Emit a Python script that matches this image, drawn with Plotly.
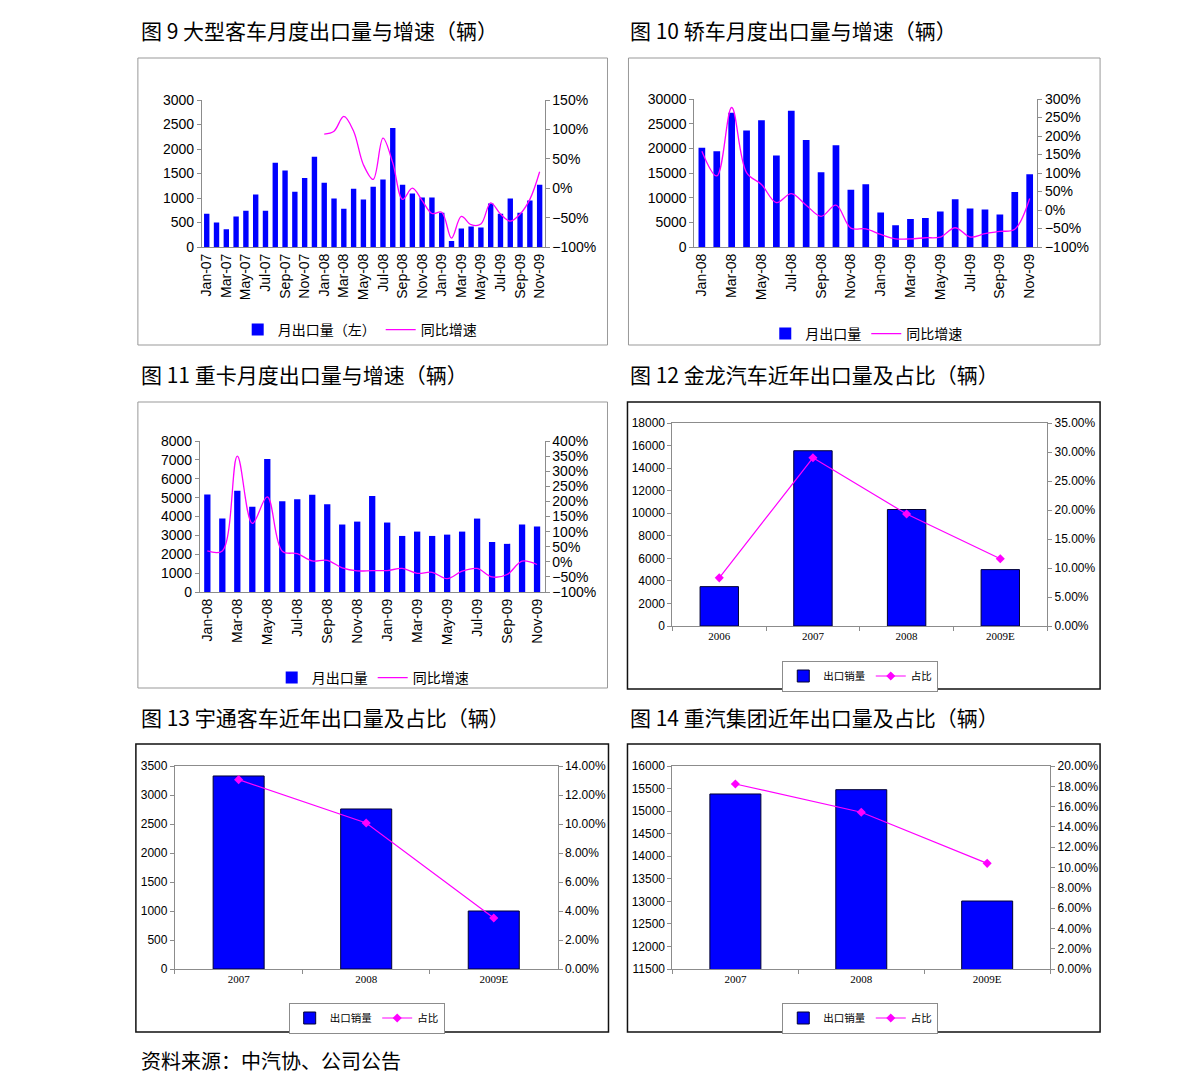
import plotly.graph_objects as go

# figure size, and the region that paper coordinates cover on the page
W, H = 1191, 1091
OX, OY, EW, EH = 3, 8, 1185, 1075

# ---------------- data ----------------
months_a = ["Jan-07", "Feb-07", "Mar-07", "Apr-07", "May-07", "Jun-07", "Jul-07", "Aug-07", "Sep-07",
            "Oct-07", "Nov-07", "Dec-07", "Jan-08", "Feb-08", "Mar-08", "Apr-08", "May-08", "Jun-08",
            "Jul-08", "Aug-08", "Sep-08", "Oct-08", "Nov-08", "Dec-08", "Jan-09", "Feb-09", "Mar-09",
            "Apr-09", "May-09", "Jun-09", "Jul-09", "Aug-09", "Sep-09", "Oct-09", "Nov-09"]
months_b = ["Jan-08", "Feb-08", "Mar-08", "Apr-08", "May-08", "Jun-08", "Jul-08", "Aug-08", "Sep-08",
            "Oct-08", "Nov-08", "Dec-08", "Jan-09", "Feb-09", "Mar-09", "Apr-09", "May-09", "Jun-09",
            "Jul-09", "Aug-09", "Sep-09", "Oct-09", "Nov-09"]

# Fig 9 large buses
bus_export = [680, 500, 360, 620, 740, 1070, 740, 1720, 1560, 1130, 1410, 1840, 1310, 990, 780, 1190,
              970, 1230, 1380, 2430, 1270, 1090, 1010, 1010, 700, 120, 380, 420, 400, 890, 680, 990,
              700, 950, 1270]
bus_growth = [None] * 12 + [92, 97, 122, 97, 40, 15, 85, 43, -19, 0, -21, -43, -41, -85, -48, -62,
                            -61, -25, -44, -56, -44, -19, 28]

# Fig 10 cars
car_export = [20100, 19400, 27200, 23600, 25700, 18550, 27600, 21670, 15170, 20650, 11580, 12730,
              6975, 4400, 5690, 5890, 7180, 9680, 7790, 7580, 6570, 11170, 14760]
car_growth = [159, 92, 277, 101, 69, 20, 44, 13, -17, 13, -49, -51, -66, -78, -78, -75, -73, -48,
              -73, -64, -58, -52, 31]

# Fig 11 heavy trucks
truck_export = [5170, 3890, 5360, 4510, 7040, 4810, 4920, 5150, 4650, 3575, 3730, 5080, 3680, 2970,
                3200, 2970, 3040, 3200, 3890, 2650, 2550, 3575, 3470]
truck_growth = [36, 36, 350, 127, 215, 35, 27, 3, 5, -20, -30, -29, -29, -22, -38, -35, -56, -31,
                -22, -50, -42, 2, -9]

# Fig 12 King Long
kl_years = ["2006", "2007", "2008", "2009E"]
kl_export = [3490, 15540, 10330, 5000]
kl_share = [0.083, 0.290, 0.193, 0.116]

# Fig 13 Yutong
yt_years = ["2007", "2008", "2009E"]
yt_export = [3328, 2759, 1000]
yt_share = [0.1306, 0.1007, 0.0352]

# Fig 14 Sinotruk
zq_years = ["2007", "2008", "2009E"]
zq_export = [15380, 15475, 13007]
zq_share = [0.1823, 0.1544, 0.1041]

titles = ["图 9 大型客车月度出口量与增速（辆）", "图 10 轿车月度出口量与增速（辆）",
          "图 11 重卡月度出口量与增速（辆）", "图 12 金龙汽车近年出口量及占比（辆）",
          "图 13 宇通客车近年出口量及占比（辆）", "图 14 重汽集团近年出口量及占比（辆）"]
source_text = "资料来源：中汽协、公司公告"

BLUE = "#0000FF"
MAG = "#FF00FF"
GRAY = "#8c8c8c"
CJK = "Noto Sans CJK SC"
SANS = "Liberation Sans, Arial"
NARROW = "Liberation Sans Narrow, Arial Narrow, Liberation Sans"
SERIF = "Liberation Serif, Times New Roman"


def px(a):
    return (a - OX) / EW


def py(b):
    return 1 - (b - OY) / EH


def dx(a, b):
    return [px(a), px(b)]


def dy(top, bottom):
    return [py(bottom), py(top)]


fig = go.Figure()
layout = dict(width=W, height=H, margin=dict(l=0, r=0, t=0, b=0),
              paper_bgcolor="white", plot_bgcolor="white", showlegend=True,
              barmode="overlay")

# ---------- monthly panels (1-3) ----------
monthly = [
    dict(cats=months_a, bars=bus_export, line=bus_growth, xd=(201, 544), yd=(100, 247),
         yl=(0, 3000, 500), yr=(-100, 150, 50), bw=0.55, bar_name="月出口量（左）",
         leg=(359, 330)),
    dict(cats=months_b, bars=car_export, line=car_growth, xd=(694, 1037), yd=(99, 247),
         yl=(0, 30000, 5000), yr=(-100, 300, 50), bw=0.45, bar_name="月出口量",
         leg=(866, 334)),
    dict(cats=months_b, bars=truck_export, line=truck_growth, xd=(199, 544), yd=(441, 592),
         yl=(0, 8000, 1000), yr=(-100, 400, 50), bw=0.42, bar_name="月出口量",
         leg=(372, 678)),
]

for k, p in enumerate(monthly):
    xi = k + 1
    yli = 2 * k + 1
    yri = 2 * k + 2
    xname = "x" if xi == 1 else f"x{xi}"
    ylname = "y" if yli == 1 else f"y{yli}"
    yrname = f"y{yri}"
    legname = "legend" if k == 0 else f"legend{k + 1}"
    fig.add_trace(go.Bar(x=p["cats"], y=p["bars"], name=p["bar_name"], marker_color=BLUE,
                         marker_line_width=0, width=p["bw"], xaxis=xname, yaxis=ylname,
                         legend=legname))
    fig.add_trace(go.Scatter(x=p["cats"], y=p["line"], name="同比增速", mode="lines",
                             line=dict(color=MAG, width=1.3, shape="spline", smoothing=1.0),
                             xaxis=xname, yaxis=yrname, legend=legname))
    xkey = "xaxis" if xi == 1 else f"xaxis{xi}"
    ylkey = "yaxis" if yli == 1 else f"yaxis{yli}"
    yrkey = f"yaxis{yri}"
    layout[xkey] = dict(domain=dx(*p["xd"]), anchor=ylname, type="category",
                        range=[-0.5, len(p["cats"]) - 0.5], tickmode="array",
                        tickvals=p["cats"][::2], ticktext=p["cats"][::2], tickangle=-90,
                        showline=True, linecolor=GRAY, linewidth=1, ticks="",
                        showgrid=False, tickfont=dict(family=SANS, size=14, color="black"))
    layout[ylkey] = dict(domain=dy(*p["yd"]), anchor=xname, range=[p["yl"][0], p["yl"][1]],
                         dtick=p["yl"][2], tick0=0, tickformat="d", showline=True,
                         linecolor=GRAY, linewidth=1, ticks="outside", ticklen=4,
                         tickcolor=GRAY, showgrid=False, zeroline=False,
                         tickfont=dict(family=SANS, size=14, color="black"))
    layout[yrkey] = dict(overlaying=ylname, side="right", anchor=xname,
                         range=[p["yr"][0], p["yr"][1]], dtick=p["yr"][2], tick0=0,
                         ticksuffix="%", showline=True, linecolor=GRAY, linewidth=1,
                         ticks="outside", ticklen=4, tickcolor=GRAY, showgrid=False,
                         zeroline=False, tickfont=dict(family=SANS, size=14, color="black"))
    layout[legname] = dict(x=px(p["leg"][0]), y=py(p["leg"][1]), xanchor="center",
                           yanchor="middle", orientation="h", bgcolor="rgba(0,0,0,0)",
                           font=dict(family=CJK, size=14, color="black"), itemwidth=30,
                           tracegroupgap=0)

# ---------- annual panels (4-6) ----------
annual = [
    dict(cats=kl_years, bars=kl_export, line=kl_share, xd=(672, 1047), yd=(423, 626),
         yl=(0, 18000, 2000), yr=(0, 0.35, 0.05), bw=0.41, leg=(860, 676)),
    dict(cats=yt_years, bars=yt_export, line=yt_share, xd=(174, 557), yd=(766, 969),
         yl=(0, 3500, 500), yr=(0, 0.14, 0.02), bw=0.40, leg=(366, 1018)),
    dict(cats=zq_years, bars=zq_export, line=zq_share, xd=(672, 1050), yd=(766, 969),
         yl=(11500, 16000, 500), yr=(0, 0.20, 0.02), bw=0.405, leg=(860, 1018)),
]

for j, p in enumerate(annual):
    k = j + 3
    xi = k + 1
    yli = 2 * k + 1
    yri = 2 * k + 2
    xname = f"x{xi}"
    ylname = f"y{yli}"
    yrname = f"y{yri}"
    legname = f"legend{k + 1}"
    fig.add_trace(go.Bar(x=p["cats"], y=p["bars"], name="出口销量", marker_color=BLUE,
                         marker_line=dict(color="#000033", width=1), width=p["bw"],
                         xaxis=xname, yaxis=ylname, legend=legname))
    fig.add_trace(go.Scatter(x=p["cats"], y=p["line"], name="占比", mode="lines+markers",
                             line=dict(color=MAG, width=1.2),
                             marker=dict(symbol="diamond", size=7, color=MAG),
                             xaxis=xname, yaxis=yrname, legend=legname))
    layout[f"xaxis{xi}"] = dict(domain=dx(*p["xd"]), anchor=ylname, type="category",
                                range=[-0.5, len(p["cats"]) - 0.5], showline=True,
                                mirror=True, linecolor=GRAY, linewidth=1, ticks="outside",
                                tickson="boundaries", ticklen=4, tickcolor=GRAY,
                                showgrid=False,
                                tickfont=dict(family=SERIF, size=11, color="black"))
    layout[f"yaxis{yli}"] = dict(domain=dy(*p["yd"]), anchor=xname,
                                 range=[p["yl"][0], p["yl"][1]], dtick=p["yl"][2],
                                 tick0=p["yl"][0], tickformat="d", showline=True,
                                 linecolor=GRAY, linewidth=1, ticks="outside", ticklen=4,
                                 tickcolor=GRAY, showgrid=False, zeroline=False,
                                 tickfont=dict(family=NARROW, size=12, color="black"))
    layout[f"yaxis{yri}"] = dict(overlaying=ylname, side="right", anchor=xname,
                                 range=[p["yr"][0], p["yr"][1]], dtick=p["yr"][2], tick0=0,
                                 tickformat=".2%", showline=True, linecolor=GRAY,
                                 linewidth=1, ticks="outside", ticklen=4, tickcolor=GRAY,
                                 showgrid=False, zeroline=False,
                                 tickfont=dict(family=NARROW, size=12, color="black"))
    layout[legname] = dict(x=px(p["leg"][0]), y=py(p["leg"][1]), xanchor="center",
                           yanchor="middle", orientation="h", bgcolor="white",
                           bordercolor=GRAY, borderwidth=1,
                           font=dict(family=CJK, size=10.5, color="black"), itemwidth=30,
                           tracegroupgap=0)

# ---------- frames ----------
frames = [
    ((137, 58, 607, 345), "#999999", 1),
    ((628, 58, 1100, 345), "#999999", 1),
    ((137, 402, 607, 688), "#999999", 1),
    ((627, 402, 1100, 689), "#111111", 1.5),
    ((135, 744, 608, 1032), "#111111", 1.5),
    ((627, 744, 1100, 1032), "#111111", 1.5),
]
shapes = []
for (x0, y0, x1, y1), col, lw in frames:
    shapes.append(dict(type="rect", xref="paper", yref="paper", x0=px(x0), x1=px(x1),
                       y0=py(y1), y1=py(y0), line=dict(color=col, width=lw),
                       fillcolor="rgba(0,0,0,0)", layer="below"))
layout["shapes"] = shapes

# ---------- titles ----------
title_pos = [(138, 30), (628, 30), (138, 374), (628, 374), (138, 717), (628, 717)]
annotations = []
for t, (x, y) in zip(titles, title_pos):
    annotations.append(dict(text=t, x=px(x), y=py(y), xref="paper", yref="paper",
                            xanchor="left", yanchor="middle", showarrow=False,
                            font=dict(family=CJK, size=21, color="black")))
annotations.append(dict(text=source_text, x=px(138), y=py(1060), xref="paper",
                        yref="paper", xanchor="left", yanchor="middle", showarrow=False,
                        font=dict(family=CJK, size=20, color="black")))
layout["annotations"] = annotations

fig.update_layout(**layout)
fig.write_html("out.html")
